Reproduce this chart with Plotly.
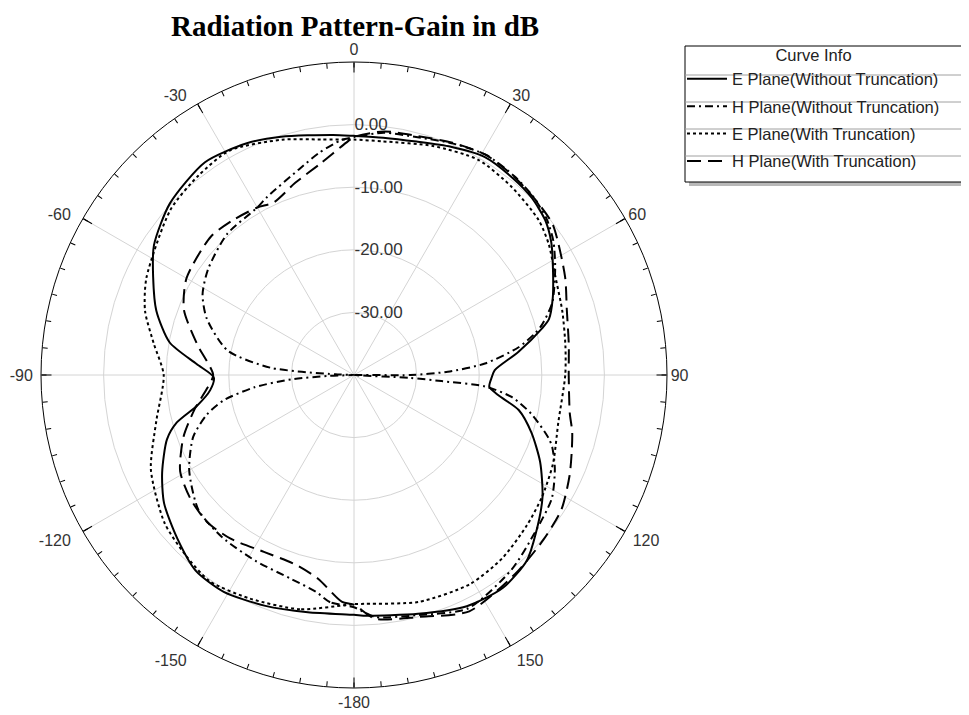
import plotly.graph_objects as go

# angles in degrees (0 at top, clockwise), gain in dB
e_notrunc_theta = [-180, -169, -159, -149, -141, -133, -124, -117, -109, -105, -101, -96, -91,
                   -86, -80, -72, -64, -57, -47, -35, -25, -17, -5, 0, 7, 15, 23, 31, 39, 45,
                   51, 56, 62, 69, 74, 76, 82, 88, 91, 95, 98, 102, 108, 115, 123, 131, 137,
                   145, 154, 165, 177, 180]
e_notrunc_db = [-1.7, -1.4, -0.5, 0.4, 0.2, -1.5, -3.4, -5.6, -8.4, -10.7, -14.5, -16.9, -17.6,
                -14.8, -10.1, -6.8, -4.3, -1.9, 0.2, 1.5, 0.8, -0.2, -1.5, -1.8, -1.8, -1.4, -0.4,
                0.6, 0.4, 0.1, -0.7, -2.0, -4.0, -6.0, -7.6, -9.0, -13.5, -17.5, -18.0, -18.3,
                -16.7, -13.1, -10.2, -7.2, -4.1, -1.5, 0.5, 1.5, 1.1, -0.5, -1.5, -1.7]

h_notrunc_theta = [-180, -174, -170, -163, -152, -141, -131, -120, -111, -105, -101, -97, -94,
                   -92, -90, -88, -85, -79, -69, -62, -54, -42, -30, -26, -15, -9, -3, 0, 7, 15,
                   23, 31, 39, 45, 51, 56, 62, 70, 75, 77, 80.5, 85, 88, 90, 91.5, 93, 94, 95,
                   98, 102.5, 108, 110, 115, 122, 131, 141, 154, 165, 175, 180]
h_notrunc_db = [-2.9, -3.5, -4.85, -5.9, -6.4, -6.6, -7.1, -9.6, -12.5, -15.7, -18.8, -24, -30,
                -36, -40, -37, -26.6, -19.4, -14.8, -12.6, -11.2, -9.7, -9.1, -8.35, -6.0, -4.1,
                -2.4, -2.0, -1.0, -0.7, 0.2, 1.0, 0.8, 0.4, -0.4, -1.6, -3.6, -6.3, -8.9, -10.3,
                -13.4, -19.0, -25, -31, -40, -31, -26, -19, -14.5, -10.9, -7.3, -6.3, -4.6,
                -2.75, -1.7, 0.0, 1.5, -0.3, -1.2, -2.9]

e_trunc_theta = [-180, -167, -155, -145, -137, -128, -115, -103, -90, -81, -73, -65, -48, -38,
                 -29, -17, -8, 0, 7, 19, 30, 40, 50, 56, 64, 73, 82, 90, 103, 114, 123, 131,
                 141, 151, 164, 177, 180]
e_trunc_db = [-3.4, -1.6, -0.6, 0.2, -0.6, -1.6, -4.2, -7.6, -9.6, -7.6, -5.1, -3.4, -0.55,
              0.4, 1.0, -0.7, -2.0, -2.4, -2.4, -1.3, -0.3, -0.8, -1.5, -2.5, -4.2, -5.2, -5.9,
              -6.25, -6.5, -5.2, -4.2, -3.4, -2.35, -1.8, -2.3, -3.4, -3.4]

h_trunc_theta = [-180, -177, -170, -163, -153, -143, -135, -127, -119, -110, -102, -95, -90,
                 -79, -69, -60, -46, -38, -30, -25, -17, -9, -2, 0, 7, 15, 23, 31, 39, 47, 53,
                 65, 73, 82, 90, 100, 104.5, 109, 115, 123, 131, 141, 154, 165, 175, 180]
h_trunc_db = [-3.3, -3.7, -6.95, -8.3, -8.3, -7.25, -6.8, -7.25, -8.25, -11.0, -14.0, -16.5,
              -17.5, -14.5, -10.9, -9.1, -8.2, -8.6, -9.1, -9.6, -7.9, -5.8, -2.9, -2.0, -0.8,
              -0.5, 0.3, 1.0, 0.7, 0.25, -0.2, -2.8, -4.45, -5.35, -5.7, -5.0, -4.0, -3.2,
              -2.0, -0.5, 0.1, 0.9, 2.0, 0.0, -0.9, -3.3]

ang_vals = [0, 30, 60, 90, 120, 150, 180, 210, 240, 270, 300, 330]
ang_text = ["0", "30", "60", "90", "120", "150", "-180", "-150", "-120", "-90", "-60", "-30"]
minor_vals = list(range(0, 360, 5))
rad_vals = [-30, -20, -10, 0]
rad_text = ["-30.00", "-20.00", "-10.00", "0.00"]

W, H = 969, 715
NB = "\u00a0"

def px(x):
  return x / W

def py(y):
  return 1 - y / H

# push the side labels a little further out, like the original
ang_show = []
for v, t in zip(ang_vals, ang_text):
  if v in (210, 240, 300, 330):
    t = t + NB * 2
  elif v == 270:
    t = t + NB
  elif v in (120, 150):
    t = NB + t
  ang_show.append(t)

fig = go.Figure()

curves = [
  ("E Plane(Without Truncation)", e_notrunc_theta, e_notrunc_db, "solid"),
  ("H Plane(Without Truncation)", h_notrunc_theta, h_notrunc_db, "8px,4px,2px,4px"),
  ("E Plane(With Truncation)", e_trunc_theta, e_trunc_db, "dot"),
  ("H Plane(With Truncation)", h_trunc_theta, h_trunc_db, "14px,7px"),
]
for i, (name, th, r, dash) in enumerate(curves):
  fig.add_trace(go.Scatterpolar(theta=th, r=r, mode="lines", name=name, legendgroup=str(i),
                                line=dict(color="black", width=2, dash=dash,
                                          shape="spline", smoothing=0.7)))

# empty trace so the second polar (minor ticks) is drawn
fig.add_trace(go.Scatterpolar(theta=[0], r=[-40], mode="lines", subplot="polar2",
                              showlegend=False, hoverinfo="skip"))

dom = dict(x=[px(33), px(659)], y=[py(680), py(54)])
fig.update_layout(
  width=W, height=H,
  margin=dict(l=0, r=0, t=0, b=0),
  paper_bgcolor="white",
  font=dict(family="Liberation Sans, Arial", size=16, color="#333"),
  annotations=[dict(text="<b>Radiation Pattern-Gain in dB</b>", xref="paper", yref="paper",
                    x=px(347), y=py(18), xanchor="center", yanchor="middle", showarrow=False,
                    font=dict(family="Liberation Serif, Times New Roman", size=29,
                              color="black"))],
  polar=dict(
    domain=dom, bgcolor="white",
    angularaxis=dict(direction="clockwise", rotation=90, thetaunit="degrees",
                     tickvals=ang_vals, ticktext=ang_show, ticks="inside", ticklen=10,
                     tickcolor="black", showline=True, linecolor="black", linewidth=1,
                     gridcolor="#d4d4d4", gridwidth=1,
                     tickfont=dict(size=16, color="#333")),
    radialaxis=dict(range=[-40, 10], angle=90, side="clockwise", tickangle=90, tickvals=rad_vals,
                    ticktext=rad_text, ticks="", showline=False, gridcolor="#d4d4d4",
                    gridwidth=1, tickfont=dict(size=17, color="#333")),
  ),
  polar2=dict(
    domain=dom, bgcolor="rgba(0,0,0,0)",
    angularaxis=dict(direction="clockwise", rotation=90, thetaunit="degrees",
                     tickvals=minor_vals, ticks="inside", ticklen=5, tickcolor="black",
                     showticklabels=False, showgrid=False, showline=False),
    radialaxis=dict(range=[-40, 10], visible=False),
  ),
  legend=dict(x=px(674), y=py(32), xanchor="left", yanchor="top",
              bgcolor="rgba(0,0,0,0)", borderwidth=0, tracegroupgap=3,
              title=dict(text="Curve Info", side="top center", font=dict(size=16.5, color="#222")),
              font=dict(size=16.5, color="#222"), itemwidth=40),
  shapes=[
    dict(type="rect", xref="paper", yref="paper", x0=px(681), x1=px(960), y0=py(42), y1=py(178),
         fillcolor="#b8b8b8", line=dict(width=0)),
    dict(type="rect", xref="paper", yref="paper", x0=px(677), x1=px(956), y0=py(38), y1=py(174),
         fillcolor="white", line=dict(color="black", width=1)),
  ] + [dict(type="line", xref="paper", yref="paper", x0=px(677), x1=px(956), y0=py(yy), y1=py(yy),
            line=dict(color="#a0a0a0", width=1)) for yy in (67, 94, 121, 148)],
)

fig.write_html("out.html")
